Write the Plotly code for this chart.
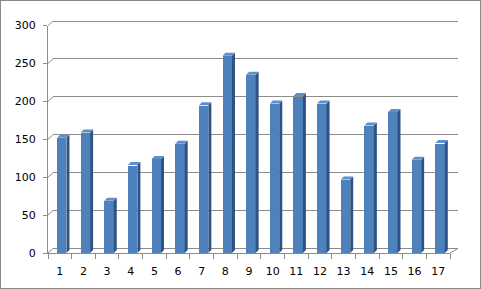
import plotly.graph_objects as go

# ---- data ----
categories = [str(i) for i in range(1, 18)]
values = [152, 159, 69, 116, 124, 144, 195, 260, 235, 197, 207, 197, 97, 168, 186, 123, 145]
y_ticks = [0, 50, 100, 150, 200, 250, 300]

W, H = 481, 289
# pixel geometry (style)
FX0, FX1 = 48, 450          # front x extent
FY0, FY1 = 253, 25.5        # front y: 0 -> 253, 300 -> 25.5
DX, DY = 5, 4.5             # wall depth offset
BX0, BX1 = FX0 + DX, 458
BY_TOP, BY_BOT = 19, 253

def px(x):
    return x / W

def py(y):
    return (H - y) / H

k = (FY0 - FY1) / 300.0     # px per unit

# back subplot range (0 at FY0-DY)
back_zero = FY0 - DY
b_lo = -(BY_BOT - back_zero) / k
b_hi = (back_zero - BY_TOP) / k

n = len(values)
xs = list(range(n))
BW = 0.40        # front face width (category units)
SHIFT = 0.08
cat_px = (FX1 - FX0) / n
ddx = 3.0 / cat_px          # bar depth in x units
ddy = 3.0 / k               # bar depth in y units

FRONT = "#4F81BD"
SIDE = "#2E5283"
TOP = "#5F8FCB"
GRID = "#8C8C8C"

fig = go.Figure()

# back wall subplot (gridlines)
fig.add_trace(go.Scatter(x=[0], y=[0], xaxis="x", yaxis="y", mode="markers",
                         marker=dict(opacity=0), showlegend=False, hoverinfo="skip"))

# front faces
fig.add_trace(go.Bar(x=[i + SHIFT for i in xs], y=values, width=BW, xaxis="x2", yaxis="y2",
                     marker=dict(color=FRONT, line=dict(width=0)), showlegend=False))

# side faces and tops
sx, sy, tx, ty = [], [], [], []
for i, v in zip(xs, values):
    xl = i + SHIFT - BW / 2
    xr = i + SHIFT + BW / 2
    sx += [xr, xr + ddx, xr + ddx, xr, xr, None]
    sy += [0, ddy, v + ddy, v, 0, None]
    tx += [xl, xr, xr + ddx, xl + ddx, xl, None]
    ty += [v, v, v + ddy, v + ddy, v, None]
fig.add_trace(go.Scatter(x=sx, y=sy, xaxis="x2", yaxis="y2", mode="lines", fill="toself",
                         fillcolor=SIDE, line=dict(width=0), showlegend=False, hoverinfo="skip"))
fig.add_trace(go.Scatter(x=tx, y=ty, xaxis="x2", yaxis="y2", mode="lines", fill="toself",
                         fillcolor=TOP, line=dict(width=0), showlegend=False, hoverinfo="skip"))

shapes = []
# left wall diagonals
for t in y_ticks:
    yf = FY0 - t * k
    shapes.append(dict(type="line", xref="paper", yref="paper",
                       x0=px(FX0), y0=py(yf), x1=px(FX0 + DX), y1=py(yf - DY),
                       line=dict(color=GRID, width=1)))
# floor right diagonal
shapes.append(dict(type="line", xref="paper", yref="paper",
                   x0=px(FX1), y0=py(FY0), x1=px(FX1 + DX + 3), y1=py(FY0 - DY),
                   line=dict(color=GRID, width=1)))
# outer border
shapes.append(dict(type="rect", xref="paper", yref="paper", x0=0, y0=0, x1=1, y1=1,
                   line=dict(color="#8A8A8A", width=2)))

font = dict(family="DejaVu Sans", size=11, color="#000000")

fig.update_layout(
    template="none",
    width=W, height=H,
    margin=dict(l=0, r=0, t=0, b=0, autoexpand=False),
    paper_bgcolor="white",
    plot_bgcolor="rgba(0,0,0,0)",
    font=font,
    bargap=0,
    shapes=shapes,
    xaxis=dict(domain=[px(BX0), px(BX1)], range=[0, 1], showgrid=False, zeroline=False,
               showticklabels=False, ticks="", showline=False, fixedrange=True,
               automargin=False),
    yaxis=dict(domain=[py(BY_BOT), py(BY_TOP)], range=[b_lo, b_hi], tickvals=y_ticks,
               showgrid=True, gridcolor=GRID, gridwidth=1, zeroline=False,
               showticklabels=False, ticks="", showline=False, fixedrange=True,
               automargin=False),
    xaxis2=dict(domain=[px(FX0), px(FX1)], range=[-0.5, n - 0.5], anchor="y2",
                tickvals=xs, ticktext=categories, ticks="", showgrid=False, zeroline=False,
                showline=True, linecolor=GRID, linewidth=1, ticklabelstandoff=8,
                minor=dict(tickvals=[i - 0.5 for i in range(n + 1)], ticks="outside",
                           ticklen=5, tickcolor=GRID, showgrid=False),
                tickfont=font, fixedrange=True, automargin=False),
    yaxis2=dict(domain=[py(FY0), py(FY1)], range=[0, 300], anchor="x2",
                tickvals=y_ticks, showgrid=False, zeroline=False,
                showline=True, linecolor=GRID, linewidth=1,
                ticks="outside", ticklen=4, tickcolor=GRID, ticklabelstandoff=5,
                tickfont=font, fixedrange=True, automargin=False),
)

fig.write_html("out.html")
